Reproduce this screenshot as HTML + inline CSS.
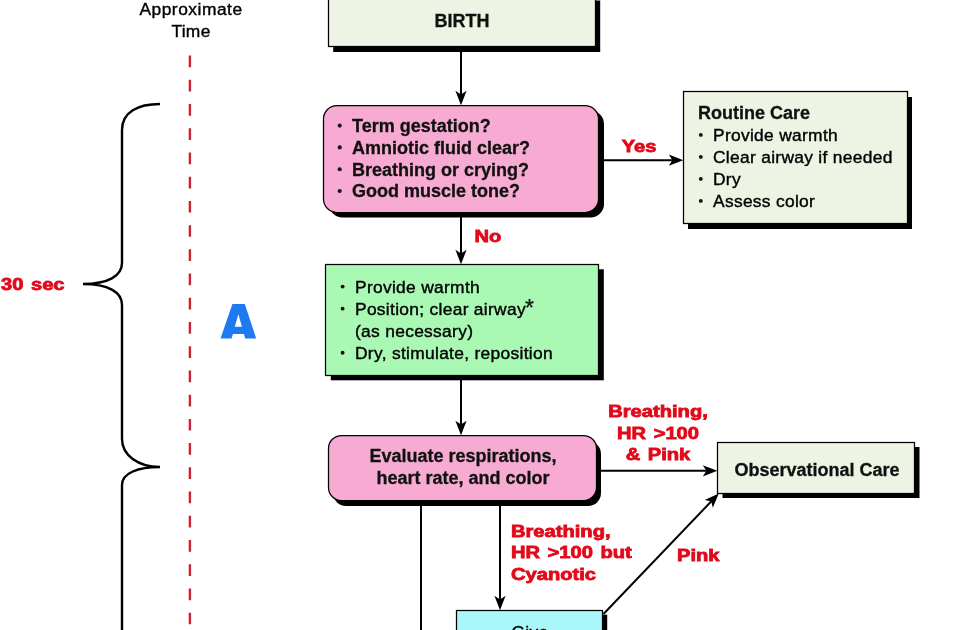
<!DOCTYPE html>
<html><head><meta charset="utf-8"><style>
html,body{margin:0;padding:0;background:#fff;width:957px;height:630px;overflow:hidden;position:relative}
svg{position:absolute;left:0;top:0}
.t{position:absolute;white-space:pre;font-family:"Liberation Sans",sans-serif;will-change:transform}
.n{font-size:17.4px;line-height:17.4px;letter-spacing:0.3px;color:#000;-webkit-text-stroke:0.4px #000}
.b{font-size:18px;line-height:18px;letter-spacing:0px;font-weight:bold;color:#111;-webkit-text-stroke:0.3px #111}
.dot{position:absolute;border-radius:50%;background:#111}
.ast{font-size:23px;line-height:23px;font-weight:normal;-webkit-text-stroke:0.25px #111;color:#111}
.r{font-size:16.5px;line-height:16.5px;font-weight:bold;color:#e2091a;-webkit-text-stroke:0.8px #e2091a;word-spacing:1.6px}
</style></head><body>
<svg width="957" height="630" viewBox="0 0 957 630">
<line x1="189.9" y1="55.6" x2="189.9" y2="640" stroke="#c82434" stroke-width="2.4" stroke-dasharray="11.7 12.52"/>
<path d="M160,104 C138,104 122,112 122,130 L122,263 C122,276 108,284 83,284 C108,284 122,292 122,305 L122,439 C122,455 138,467 160,467 C138,467 122,473 122,485 L122,640" fill="none" stroke="#000" stroke-width="2.4"/>
<rect x="333.2" y="0.5" width="267.0" height="51.5" rx="0" fill="#000"/><rect x="328.5" y="-5" width="267.0" height="51.5" rx="0" fill="#edf4e3" stroke="#000" stroke-width="1.25"/>
<rect x="329.0" y="110.5" width="275.0" height="107.0" rx="13.5" fill="#000"/><rect x="323.5" y="105.5" width="275.0" height="107.0" rx="13.5" fill="#f7abd3" stroke="#000" stroke-width="1.25"/>
<rect x="688.0" y="97.0" width="224.0" height="132.0" rx="0" fill="#000"/><rect x="683.5" y="91.5" width="224.0" height="132.0" rx="0" fill="#edf4e3" stroke="#000" stroke-width="1.25"/>
<rect x="330.8" y="269.3" width="273.0" height="111.0" rx="0" fill="#000"/><rect x="325.5" y="264.5" width="273.0" height="111.0" rx="0" fill="#a9f8b3" stroke="#000" stroke-width="1.25"/>
<rect x="333.0" y="441.0" width="268.0" height="65.0" rx="13" fill="#000"/><rect x="328.5" y="435.5" width="268.0" height="65.0" rx="13" fill="#f7abd3" stroke="#000" stroke-width="1.25"/>
<rect x="722.5" y="447.0" width="197.0" height="51.0" rx="0" fill="#000"/><rect x="717.5" y="442.5" width="197.0" height="51.0" rx="0" fill="#edf4e3" stroke="#000" stroke-width="1.25"/>
<rect x="461.2" y="614.7" width="146.0" height="69.5" rx="0" fill="#000"/><rect x="456.5" y="610.5" width="146.0" height="69.5" rx="0" fill="#a9f7fa" stroke="#000" stroke-width="1.25"/>
<line x1="461" y1="46.5" x2="461.00" y2="94.90" stroke="#000" stroke-width="2"/><path d="M461.00,105.30 L455.40,90.80 L461.00,94.40 L466.60,90.80 Z" fill="#000"/>
<line x1="461" y1="212.5" x2="461.00" y2="253.90" stroke="#000" stroke-width="2"/><path d="M461.00,264.30 L455.40,249.80 L461.00,253.40 L466.60,249.80 Z" fill="#000"/>
<line x1="461" y1="375.5" x2="461.00" y2="424.90" stroke="#000" stroke-width="2"/><path d="M461.00,435.30 L455.40,420.80 L461.00,424.40 L466.60,420.80 Z" fill="#000"/>
<line x1="598.5" y1="160.2" x2="672.90" y2="160.20" stroke="#000" stroke-width="2"/><path d="M683.30,160.20 L668.80,165.80 L672.40,160.20 L668.80,154.60 Z" fill="#000"/>
<line x1="596.5" y1="470.8" x2="706.90" y2="470.80" stroke="#000" stroke-width="2"/><path d="M717.30,470.80 L702.80,476.40 L706.40,470.80 L702.80,465.20 Z" fill="#000"/>
<line x1="421" y1="500.5" x2="421" y2="640" stroke="#000" stroke-width="2"/>
<line x1="500" y1="500.5" x2="500.00" y2="599.90" stroke="#000" stroke-width="2"/><path d="M500.00,610.30 L494.40,595.80 L500.00,599.40 L505.60,595.80 Z" fill="#000"/>
<line x1="603.5" y1="614" x2="711.61" y2="501.01" stroke="#000" stroke-width="2"/><path d="M718.80,493.50 L712.82,507.85 L711.26,501.38 L704.73,500.11 Z" fill="#000"/>
<path d="M232.4,304.1 L244.8,304.1 L256.2,338.4 L245.2,338.4 L244,334 L232.9,334 L231.6,338.4 L220.5,338.4 Z M238.4,314.3 L234.8,326.7 L241.9,326.7 Z" fill="#1f7af2" fill-rule="evenodd"/>
<circle cx="339.70" cy="125.60" r="2.05" fill="#111"/>
<circle cx="339.70" cy="147.40" r="2.05" fill="#111"/>
<circle cx="339.70" cy="169.20" r="2.05" fill="#111"/>
<circle cx="339.70" cy="191.00" r="2.05" fill="#111"/>
<circle cx="700.80" cy="134.90" r="1.95" fill="#111"/>
<circle cx="700.80" cy="156.90" r="1.95" fill="#111"/>
<circle cx="700.80" cy="178.90" r="1.95" fill="#111"/>
<circle cx="700.80" cy="200.90" r="1.95" fill="#111"/>
<circle cx="342.60" cy="286.60" r="1.95" fill="#111"/>
<circle cx="342.60" cy="308.65" r="1.95" fill="#111"/>
<circle cx="342.60" cy="352.75" r="1.95" fill="#111"/>
</svg>
<div class="t n" style="top:1.17px;left:190.50px;transform:translateX(-50%);letter-spacing:0.5px;">Approximate</div>
<div class="t n" style="top:23.37px;left:190.50px;transform:translateX(-50%);">Time</div>
<div class="t b" style="top:12.16px;left:462.00px;transform:translateX(-50%);">BIRTH</div>
<div class="t b" style="top:116.96px;left:352.00px;">Term gestation?</div>
<div class="t b" style="top:138.76px;left:352.00px;">Amniotic fluid clear?</div>
<div class="t b" style="top:160.56px;left:352.00px;">Breathing or crying?</div>
<div class="t b" style="top:182.36px;left:352.00px;">Good muscle tone?</div>
<div class="t b" style="top:104.26px;left:698.00px;">Routine Care</div>
<div class="t n" style="top:127.07px;left:713.00px;">Provide warmth</div>
<div class="t n" style="top:149.07px;left:713.00px;">Clear airway if needed</div>
<div class="t n" style="top:171.07px;left:713.00px;">Dry</div>
<div class="t n" style="top:193.07px;left:713.00px;">Assess color</div>
<div class="t n" style="top:278.77px;left:354.70px;">Provide warmth</div>
<div class="t n" style="top:300.82px;left:354.70px;">Position; clear airway</div>
<div class="t n" style="top:322.87px;left:354.70px;">(as necessary)</div>
<div class="t n" style="top:344.92px;left:354.70px;">Dry, stimulate, reposition</div>
<div class="t ast" style="top:296.93px;left:525.30px;">*</div>
<div class="t b" style="top:446.56px;left:462.70px;transform:translateX(-50%);">Evaluate respirations,</div>
<div class="t b" style="top:468.56px;left:462.70px;transform:translateX(-50%);">heart rate, and color</div>
<div class="t b" style="top:460.76px;left:816.50px;transform:translateX(-50%);">Observational Care</div>
<div class="t n" style="top:623.57px;left:529.50px;transform:translateX(-50%);">Give</div>
<div class="t r" style="top:276.03px;left:0.50px;transform:scaleX(1.22);transform-origin:0 0;">30 sec</div>
<div class="t r" style="top:137.53px;left:639.00px;transform:translateX(-50%) scaleX(1.22);">Yes</div>
<div class="t r" style="top:228.33px;left:488.00px;transform:translateX(-50%) scaleX(1.22);">No</div>
<div class="t r" style="top:403.43px;left:658.00px;transform:translateX(-50%) scaleX(1.22);">Breathing,</div>
<div class="t r" style="top:424.93px;left:658.00px;transform:translateX(-50%) scaleX(1.22);">HR >100</div>
<div class="t r" style="top:445.93px;left:658.00px;transform:translateX(-50%) scaleX(1.22);">& Pink</div>
<div class="t r" style="top:522.53px;left:511.20px;transform:scaleX(1.22);transform-origin:0 0;">Breathing,</div>
<div class="t r" style="top:544.23px;left:511.20px;transform:scaleX(1.22);transform-origin:0 0;">HR >100 but</div>
<div class="t r" style="top:565.83px;left:511.20px;transform:scaleX(1.22);transform-origin:0 0;">Cyanotic</div>
<div class="t r" style="top:547.43px;left:677.20px;transform:scaleX(1.22);transform-origin:0 0;">Pink</div>
</body></html>
